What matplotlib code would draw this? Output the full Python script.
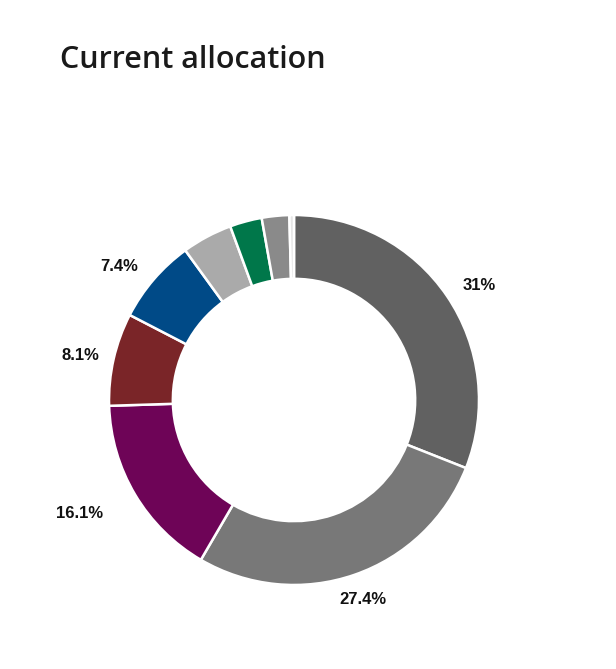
import numpy as np
import matplotlib
matplotlib.use("Agg")
import matplotlib.pyplot as plt

# allocation shares, clockwise from the top
shares = [31.0, 27.4, 16.1, 8.1, 7.4, 4.4, 2.8, 2.4, 0.4]
colors = ["#616161", "#787878", "#6e0457", "#7a2528", "#004a87",
          "#aaaaaa", "#00774a", "#8a8a8a", "#e6e6e6"]

# only the bigger slices get a label
labels = []
for s in shares:
    if s >= 5:
        labels.append(("%.1f" % s).rstrip("0").rstrip(".") + "%")
    else:
        labels.append("")

# label distance / alignment per slice (style only)
label_dist = [1.1, 1.14, 1.2, 1.08, 1.11, 1.1, 1.1, 1.1, 1.1]
label_ha = ["left", "center", "right", "right", "right", "right", "right", "right", "right"]

fig = plt.figure(figsize=(6.16, 6.69), dpi=100)
ax = fig.add_axes([0.177, 0.1256, 0.6006, 0.553])

wedges, texts = ax.pie(shares, colors=colors, startangle=90,
                       counterclock=False, radius=1.0,
                       wedgeprops=dict(width=0.345, edgecolor="white", linewidth=1.8))

for w, lab, d, ha in zip(wedges, labels, label_dist, label_ha):
    if not lab:
        continue
    ang = np.deg2rad((w.theta1 + w.theta2) / 2)
    ax.text(d * np.cos(ang), d * np.sin(ang), lab, ha=ha, va="center",
            fontsize=12, fontweight="bold", family="Liberation Sans",
            color="#111111", clip_on=False)

ax.set_xlim(-1, 1)
ax.set_ylim(-1, 1)
ax.set_aspect("equal")

fig.text(60 / 616, 1 - 60 / 669, "Current allocation", fontsize=22,
         fontweight="semibold", family="Open Sans", color="#1a1a1a",
         ha="left", va="center")

plt.savefig("out.png")
